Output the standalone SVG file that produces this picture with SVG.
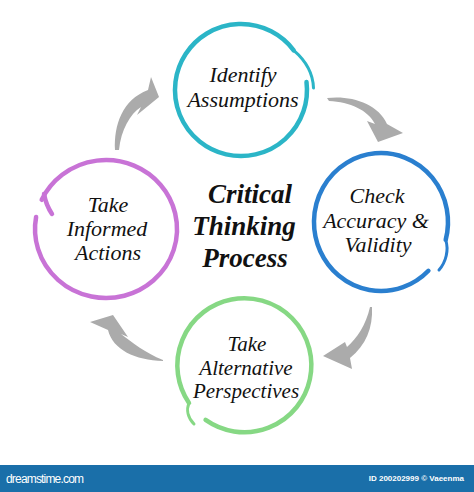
<svg xmlns="http://www.w3.org/2000/svg" width="474" height="492" viewBox="0 0 474 492">
<style>
.lbl{font-family:"Liberation Serif","Times New Roman",serif;font-style:italic;font-size:22px;fill:#111;text-anchor:middle}
.sm{font-size:21px}
.ttl{font-family:"Liberation Serif","Times New Roman",serif;font-style:italic;font-weight:bold;font-size:27px;fill:#111;text-anchor:middle}
.ring{fill:none;stroke-width:4.5;stroke-linecap:round}
.tail{fill:none;stroke-width:3;stroke-linecap:round}
.arrow{fill:#ababab;stroke:none}
.bar{font-family:"Liberation Sans",Arial,sans-serif;fill:#fff}
</style>
<rect width="474" height="492" fill="#fff"/>

<g id="connectors">
  <path class="arrow" d="M115,150 C114,125 122,100 148,90 L151,77 L159,97 L137,115 L141,107 C130,114 121,130 119,150 Z"/>
  <path class="arrow" d="M327,98 C350,95 378,103 387,124 L403,133 L378,142 L367,121 L375,124 C368,110 350,102 329,101 Z"/>
  <path class="arrow" d="M372,307 C373,328 366,345 350,358 L352,369 L323,356 L345,342 L347,347 C357,338 366,325 370,307 Z"/>
  <path class="arrow" d="M163,361 C135,360 113,350 108,330 L90,322 L113,315 L128,337 L121,334 C132,342 145,353 163,360 Z"/>
</g>

<g id="node-identify">
  <path class="ring" stroke="#2bb5c7" d="M306.5,82 A66,66 0 1 1 293.7,50.3"/>
  <path class="tail" stroke="#2bb5c7" d="M293.7,50.3 C305,60 313,72 313.5,88"/>
  <text class="lbl" x="243" y="82">Identify</text>
  <text class="lbl" x="243" y="107">Assumptions</text>
</g>

<g id="node-check">
  <path class="ring" stroke="#2a7fcf" d="M428.4,270.8 A67,69 0 1 1 445.7,239.9"/>
  <path class="tail" stroke="#2a7fcf" d="M445.7,239.9 C449,250 446,262 439,270"/>
  <text class="lbl" x="377" y="203">Check</text>
  <text class="lbl" x="376" y="228">Accuracy &amp;</text>
  <text class="lbl" x="378" y="252">Validity</text>
</g>

<g id="node-alternative">
  <path class="ring" stroke="#86d884" d="M189,403 A67,67 0 1 1 205.6,419.9"/>
  <path class="tail" stroke="#86d884" d="M189,403 C186,410 188,418 194,424"/>
  <text class="lbl sm" x="247" y="351">Take</text>
  <text class="lbl sm" x="246" y="374.5">Alternative</text>
  <text class="lbl sm" x="246" y="398">Perspectives</text>
</g>

<g id="node-informed">
  <path class="ring" stroke="#c873d6" d="M41.7,199.8 A71,69 0 1 1 36.1,217"/>
  <path class="ring" stroke="#c873d6" d="M44,194 Q46,205 52,214"/>
  <text class="lbl" x="108" y="212">Take</text>
  <text class="lbl" x="107" y="236">Informed</text>
  <text class="lbl" x="108" y="260">Actions</text>
</g>

<g id="title">
  <text class="ttl" x="250" y="203">Critical</text>
  <text class="ttl" x="244" y="235">Thinking</text>
  <text class="ttl" x="245" y="267">Process</text>
</g>

<g id="footer">
  <rect x="0" y="465" width="474" height="27" fill="#1a6fa9"/>
  <text class="bar" x="6" y="483" font-size="12" textLength="78">dreamstime.com</text>
  <text class="bar" x="464" y="481" font-size="8" font-weight="bold" text-anchor="end">ID 200202999 © Vaeenma</text>
</g>
</svg>
